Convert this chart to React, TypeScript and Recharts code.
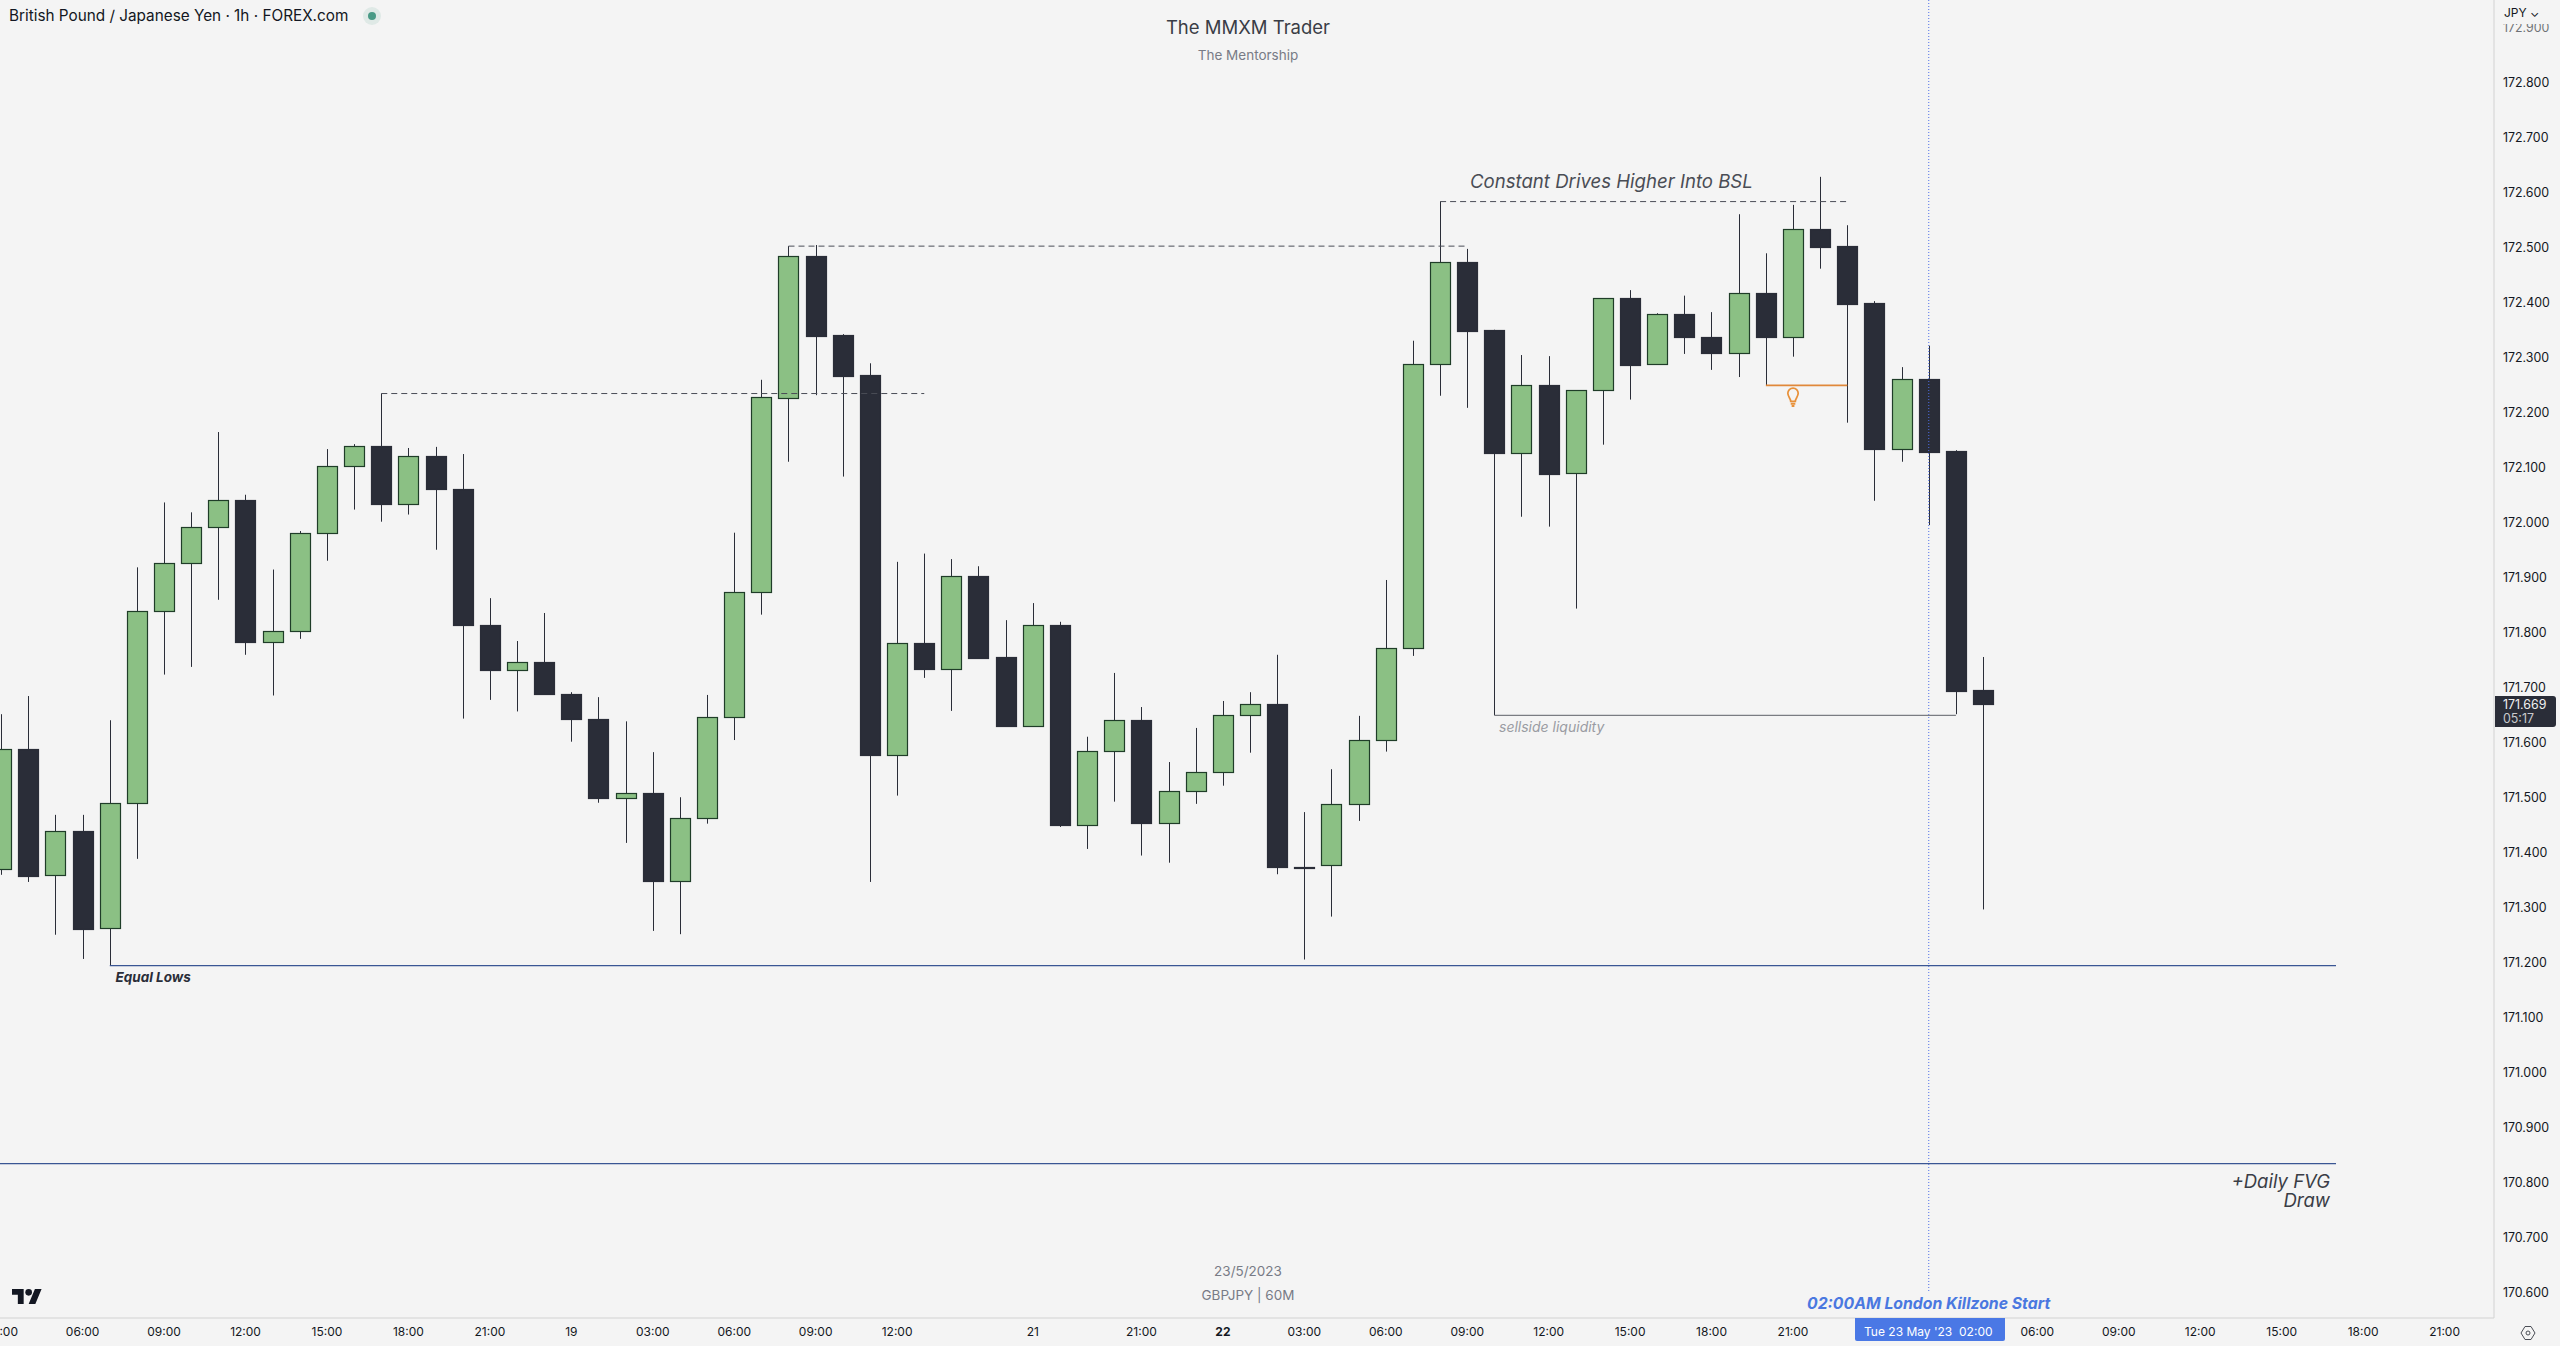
import { ComposedChart, Bar, XAxis, YAxis, ReferenceLine, ReferenceDot } from "recharts";

const opens = [
  171.368, 171.587, 171.357, 171.437, 171.261, 171.488, 171.837, 171.924, 171.99, 172.039,
  171.782, 171.802, 171.979, 172.102, 172.137, 172.033, 172.119, 172.06, 171.812, 171.731,
  171.744, 171.687, 171.642, 171.498, 171.507, 171.347, 171.461, 171.644, 171.873, 172.225,
  172.483, 172.339, 172.267, 171.575, 171.779, 171.733, 171.902, 171.754, 171.629, 171.812,
  171.449, 171.583, 171.639, 171.453, 171.51, 171.544, 171.648, 171.668, 171.373, 171.375,
  171.486, 171.603, 171.77, 172.286, 172.473, 172.349, 172.125, 172.248, 172.088, 172.239,
  172.406, 172.286, 172.377, 172.336, 172.307, 172.415, 172.335, 172.533, 172.501, 172.398,
  172.133, 172.259, 172.129, 171.694,
];
const highs = [
  171.65, 171.683, 171.467, 171.467, 171.639, 171.917, 172.035, 172.017, 172.163, 172.049,
  171.913, 171.983, 172.132, 172.141, 172.233, 172.134, 172.136, 172.123, 171.861, 171.783,
  171.834, 171.69, 171.681, 171.637, 171.581, 171.499, 171.685, 171.98, 172.258, 172.501,
  172.503, 172.341, 172.288, 171.927, 171.942, 171.932, 171.919, 171.821, 171.852, 171.818,
  171.609, 171.725, 171.663, 171.563, 171.625, 171.674, 171.69, 171.758, 171.472, 171.55,
  171.647, 171.894, 172.329, 172.582, 172.496, 172.349, 172.303, 172.301, 172.239, 172.406,
  172.421, 172.379, 172.411, 172.381, 172.559, 172.488, 172.576, 172.627, 172.539, 172.401,
  172.281, 172.32, 172.13, 171.754,
];
const lows = [
  171.358, 171.345, 171.249, 171.205, 171.193, 171.387, 171.722, 171.736, 171.858, 171.758,
  171.684, 171.787, 171.929, 172.022, 172.0, 172.013, 171.949, 171.642, 171.676, 171.655,
  171.685, 171.6, 171.489, 171.416, 171.256, 171.25, 171.451, 171.603, 171.831, 172.109,
  172.23, 172.082, 171.345, 171.502, 171.716, 171.656, 171.751, 171.629, 171.629, 171.445,
  171.405, 171.491, 171.393, 171.38, 171.487, 171.52, 171.58, 171.359, 171.204, 171.282,
  171.456, 171.582, 171.756, 172.229, 172.207, 171.648, 172.009, 171.991, 171.842, 172.14,
  172.222, 172.285, 172.305, 172.276, 172.263, 172.248, 172.3, 172.46, 172.18, 172.038,
  172.109, 171.994, 171.65, 171.295,
];
const closes = [
  171.587, 171.356, 171.437, 171.26, 171.488, 171.837, 171.924, 171.99, 172.039, 171.782,
  171.802, 171.979, 172.102, 172.137, 172.033, 172.119, 172.06, 171.812, 171.731, 171.744,
  171.687, 171.642, 171.498, 171.506, 171.347, 171.461, 171.644, 171.873, 172.226, 172.483,
  172.338, 172.265, 171.575, 171.779, 171.733, 171.902, 171.753, 171.629, 171.812, 171.449,
  171.583, 171.639, 171.453, 171.51, 171.544, 171.648, 171.668, 171.373, 171.372, 171.486,
  171.603, 171.77, 172.286, 172.473, 172.347, 172.125, 172.248, 172.087, 172.239, 172.406,
  172.285, 172.377, 172.335, 172.307, 172.415, 172.335, 172.533, 172.499, 172.396, 172.133,
  172.259, 172.127, 171.693, 171.669,
];

const tickIndexes = [0, 3, 6, 9, 12, 15, 18, 21, 24, 27, 30, 33, 38, 42, 45, 48, 51, 54, 57, 60, 63, 66, 75, 78, 81, 84, 87, 90];
const tickLabels = [
  "03:00", "06:00", "09:00", "12:00", "15:00", "18:00", "21:00", "19", "03:00", "06:00",
  "09:00", "12:00", "21", "21:00", "22", "03:00", "06:00", "09:00", "12:00", "15:00",
  "18:00", "21:00", "06:00", "09:00", "12:00", "15:00", "18:00", "21:00",
];
const priceTicks = [
  170.6, 170.7, 170.8, 170.9, 171.0, 171.1, 171.2, 171.3, 171.4, 171.5, 171.6, 171.7,
  171.8, 171.9, 172.0, 172.1, 172.2, 172.3, 172.4, 172.5, 172.6, 172.7, 172.8, 172.9,
];

const rows = opens.map((open, i) => ({
  i,
  open,
  close: closes[i],
  high: highs[i],
  low: lows[i],
  range: [lows[i], highs[i]],
}));

const BG = "#f4f4f4";
const UP = "#8bc084";
const UP_BORDER = "#1f3d28";
const DOWN = "#2a2d38";
const BLUE_LINE = "#3a5694";
const DASH = "#4a4d56";
const FONT = "Inter, sans-serif";

const xMin = -0.044;
const xMax = 91.82;
const yMin = 170.5522;
const yMax = 172.9485;

const Candle = (props: any) => {
  const { x, y, width, height, payload } = props;
  const pxPerPrice = Math.abs(height) / (payload.high - payload.low);
  const toY = (p: number) => y + (payload.high - p) * pxPerPrice;
  const cx = Math.round(x + width / 2);
  const isUp = payload.close >= payload.open;
  const top = Math.round(toY(Math.max(payload.open, payload.close)));
  const bottom = Math.round(toY(Math.min(payload.open, payload.close)));
  return (
    <g>
      <line x1={cx + 0.5} x2={cx + 0.5} y1={y} y2={y + Math.abs(height)} stroke={DOWN} strokeWidth={1} />
      <rect
        x={cx - 10 + 0.5}
        y={top + 0.5}
        width={20}
        height={Math.max(bottom - top, 1)}
        fill={isUp ? UP : DOWN}
        stroke={isUp ? UP_BORDER : DOWN}
        strokeWidth={1.2}
      />
    </g>
  );
};

const TimeTick = (props: any) => {
  const { x, y, payload } = props;
  const label = tickLabels[tickIndexes.indexOf(payload.value)];
  return (
    <text
      x={x}
      y={y}
      dy={4}
      textAnchor="middle"
      fontFamily={FONT}
      fontSize={12}
      fontWeight={label === "22" ? 700 : 400}
      fill="#131722"
    >
      {label}
    </text>
  );
};

const Bulb = (props: any) => {
  const { cx, cy } = props;
  return (
    <g transform={`translate(${cx} ${cy}) scale(1.15)`} fill="none" stroke="#e8913a" strokeWidth={1.5}>
      <path d="M-2 3 C-2 0.5 -4.5 -1 -4.5 -4 A4.5 4.5 0 0 1 4.5 -4 C4.5 -1 2 0.5 2 3 Z" />
      <path d="M-2 5 H2 M-1.2 7 H1.2" strokeWidth={1.8} />
    </g>
  );
};

const Note = ({ x, y, size, color, style, children }: any) => (
  <div
    style={{
      position: "absolute",
      left: x,
      top: y,
      transform: "translateY(-50%)",
      fontSize: size,
      color,
      whiteSpace: "nowrap",
      lineHeight: 1,
      ...style,
    }}
  >
    {children}
  </div>
);

const App = () => {
  return (
    <div style={{ position: "fixed", left: 0, top: 0, width: 2560, height: 1346, background: BG, fontFamily: FONT, overflow: "hidden" }}>
      <ComposedChart width={2560} height={1346} data={rows} margin={{ top: 0, right: 0, bottom: 0, left: 0 }}>
        <XAxis
          dataKey="i"
          type="number"
          domain={[xMin, xMax]}
          ticks={tickIndexes}
          interval={0}
          allowDataOverflow
          height={28}
          tickLine={false}
          tickSize={0}
          tickMargin={14}
          axisLine={{ stroke: "#d2d2d2" }}
          tick={<TimeTick />}
        />
        <YAxis
          orientation="right"
          type="number"
          domain={[yMin, yMax]}
          ticks={priceTicks}
          interval={0}
          allowDataOverflow
          width={66}
          tickLine={false}
          tickSize={0}
          tickMargin={9}
          axisLine={{ stroke: "#d2d2d2" }}
          tick={{ fontFamily: FONT, fontSize: 12.4, fill: "#131722", dy: 0.5 }}
          tickFormatter={(v: number) => v.toFixed(3)}
        />
        <ReferenceLine
          segment={[{ x: 71, y: yMax }, { x: 71, y: 170.599 }]}
          stroke="#4f6fe8"
          strokeDasharray="1 2"
        />
        <Bar dataKey="range" barSize={21} isAnimationActive={false} shape={<Candle />} />
        <ReferenceLine segment={[{ x: 14, y: 172.233 }, { x: 34, y: 172.233 }]} stroke={DASH} strokeDasharray="6 4" />
        <ReferenceLine segment={[{ x: 29, y: 172.501 }, { x: 54, y: 172.501 }]} stroke={DASH} strokeDasharray="6 4" />
        <ReferenceLine segment={[{ x: 53, y: 172.582 }, { x: 68, y: 172.582 }]} stroke={DASH} strokeDasharray="6 4" />
        <ReferenceLine segment={[{ x: 4, y: 171.193 }, { x: 86, y: 171.193 }]} stroke={BLUE_LINE} strokeWidth={1.2} />
        <ReferenceLine segment={[{ x: xMin, y: 170.833 }, { x: 86, y: 170.833 }]} stroke={BLUE_LINE} strokeWidth={1.2} />
        <ReferenceLine segment={[{ x: 65, y: 172.248 }, { x: 68, y: 172.248 }]} stroke="#e0883a" strokeWidth={1.7} />
        <ReferenceLine segment={[{ x: 55, y: 171.648 }, { x: 72, y: 171.648 }]} stroke="#7a7c82" strokeWidth={1.2} />
        <ReferenceDot x={66} y={172.225} r={0} shape={<Bulb />} />
      </ComposedChart>

      <Note x={9} y={16} size={15.3} color="#131722">British Pound / Japanese Yen · 1h · FOREX.com</Note>
      <div style={{ position: "absolute", left: 363, top: 7, width: 18, height: 18, borderRadius: 9, background: "#dfe9e6" }} />
      <div style={{ position: "absolute", left: 368, top: 12, width: 8, height: 8, borderRadius: 4, background: "#4a9a86" }} />

      <Note x={0} y={27} size={18.5} color="#3a3d46" style={{ width: 2496, textAlign: "center" }}>The MMXM Trader</Note>
      <Note x={0} y={56} size={13.5} color="#787b86" style={{ width: 2496, textAlign: "center" }}>The Mentorship</Note>
      <Note x={0} y={1272} size={13.5} color="#787b86" style={{ width: 2496, textAlign: "center" }}>23/5/2023</Note>
      <Note x={0} y={1296} size={13.5} color="#787b86" style={{ width: 2496, textAlign: "center" }}>GBPJPY | 60M</Note>

      <Note x={115.5} y={977.5} size={13.5} color="#2a2d38" style={{ fontWeight: 700, fontStyle: "italic" }}>Equal Lows</Note>
      <Note x={1470} y={181} size={18.6} color="#4a4d55" style={{ fontStyle: "italic" }}>Constant Drives Higher Into BSL</Note>
      <Note x={1499} y={727} size={14} color="#9a9ca3" style={{ fontStyle: "italic" }}>sellside liquidity</Note>
      <Note x={2130} y={1181} size={18.5} color="#3a3d46" style={{ fontStyle: "italic", width: 200, textAlign: "right" }}>+Daily FVG</Note>
      <Note x={2130} y={1200} size={18.5} color="#3a3d46" style={{ fontStyle: "italic", width: 200, textAlign: "right" }}>Draw</Note>
      <Note x={1807} y={1304} size={15.8} color="#4a78e0" style={{ fontStyle: "italic", fontWeight: 700 }}>02:00AM London Killzone Start</Note>

      {/* fixed interface bits around the axes */}
      <div style={{ position: "absolute", left: 2495, top: 0, width: 65, height: 24, background: BG }} />
      <div style={{ position: "absolute", left: 2495, top: 24, width: 65, height: 8, background: BG, opacity: 0.4 }} />
      <Note x={2504} y={13} size={12} color="#131722">JPY ⌄</Note>

      <div style={{ position: "absolute", left: 2495, top: 696, width: 61, height: 31, background: DOWN, borderRadius: "0 3px 3px 0" }} />
      <Note x={2503} y={705} size={12.4} color="#f0f0f0">171.669</Note>
      <Note x={2503} y={719} size={12.4} color="#c8c9cc">05:17</Note>

      <div style={{ position: "absolute", left: 1855, top: 1318, width: 150, height: 23, background: "#4a78e5", borderRadius: "0 0 2px 2px" }} />
      <Note x={1864} y={1332} size={12} color="#ffffff" style={{ whiteSpace: "pre" }}>Tue 23 May '23  02:00</Note>

      <svg style={{ position: "absolute", left: 12, top: 1289 }} width={30} height={15} viewBox="0 4 36 18">
        <path d="M14 22H7V11H0V4h14v18zM28 22h-8l7.5-18h8L28 22z" fill="#131722" />
        <circle cx={20} cy={8} r={4} fill="#131722" />
      </svg>
      <svg style={{ position: "absolute", left: 2520, top: 1325 }} width={16} height={16} viewBox="0 0 16 16" fill="none" stroke="#4a4d55">
        <path d="M5 1.5h6L15 8l-4 6.5H5L1 8z" />
        <circle cx={8} cy={8} r={2} />
      </svg>
    </div>
  );
};

export default App;
